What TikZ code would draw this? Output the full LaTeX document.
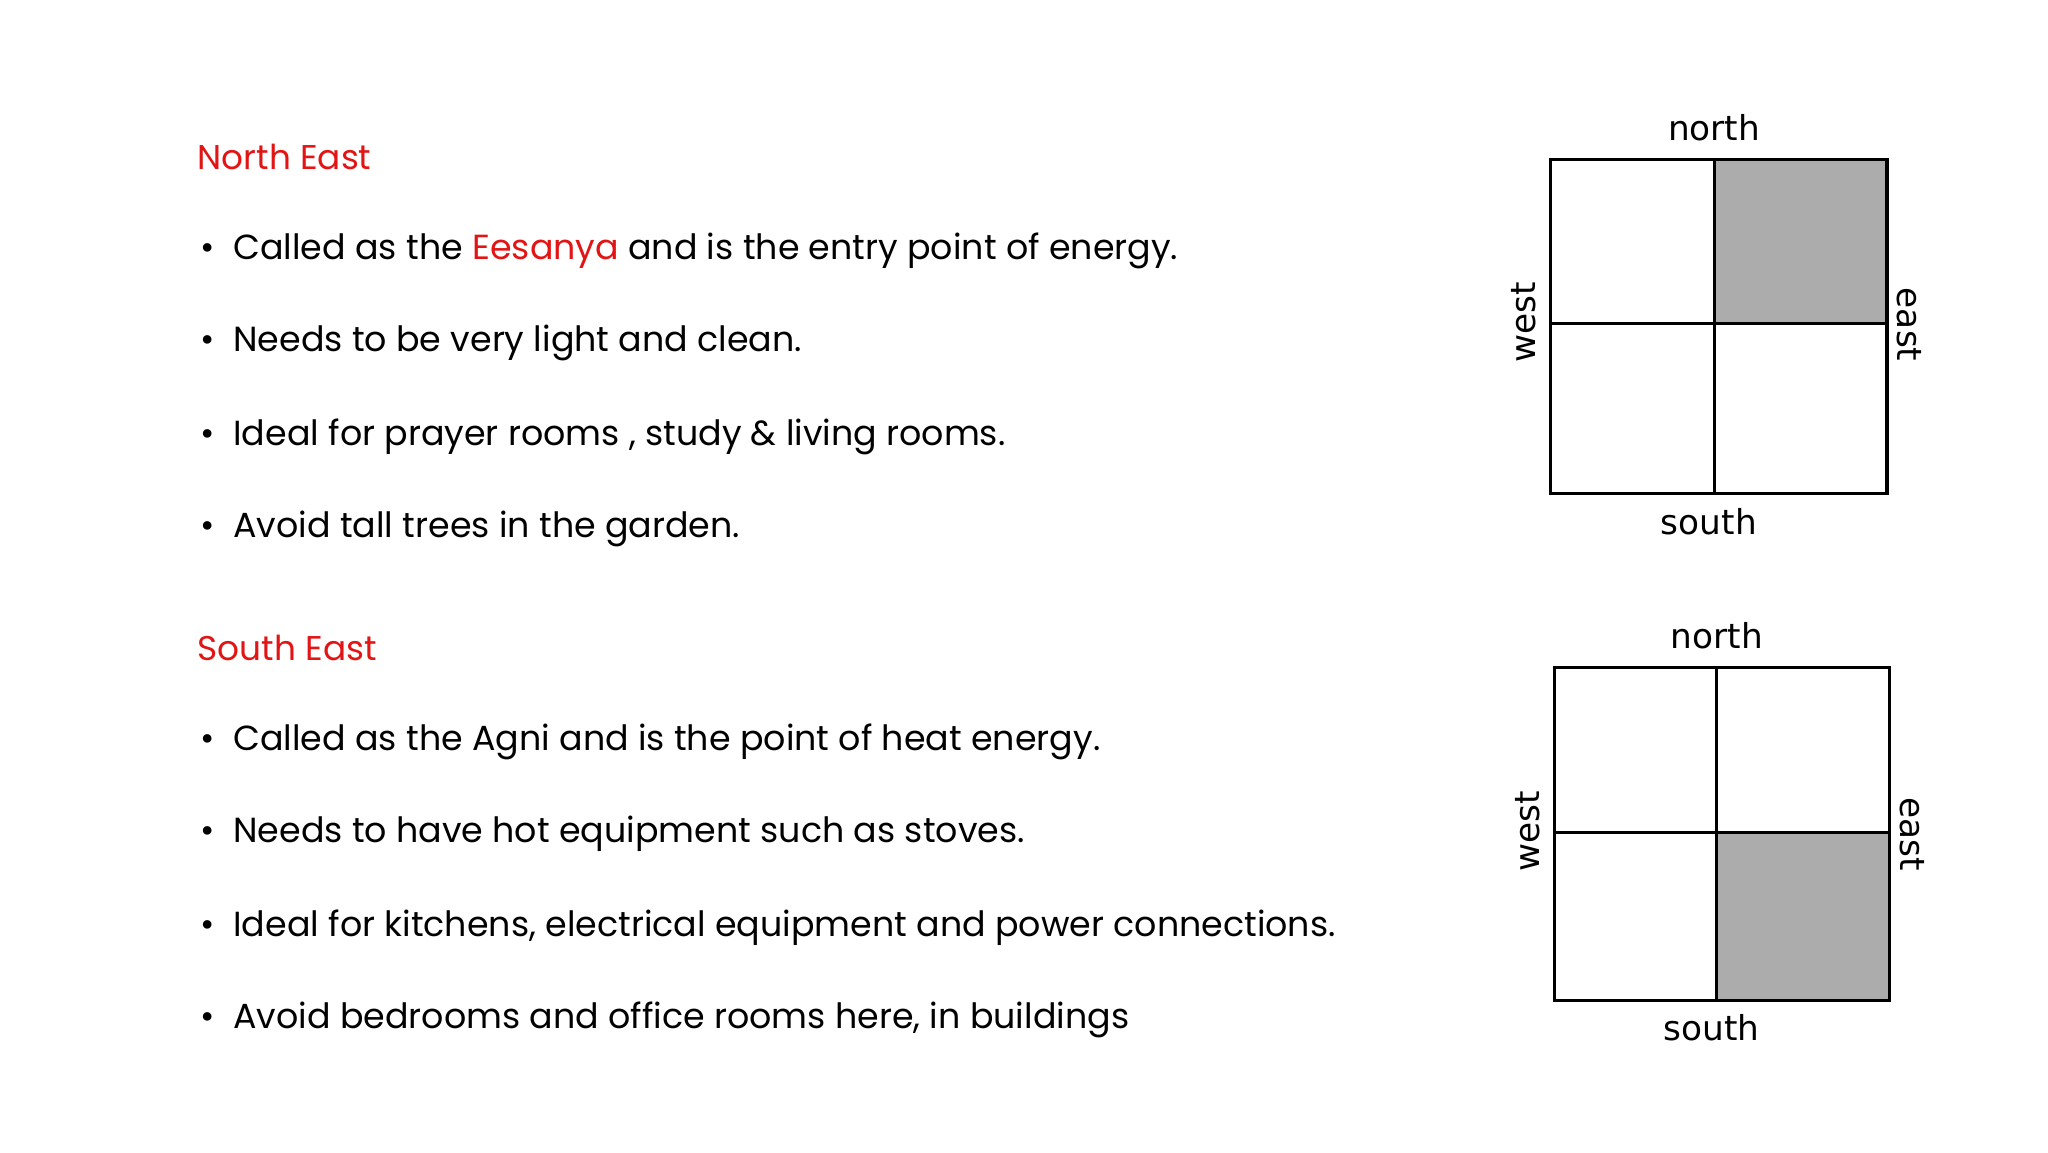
\documentclass[tikz,border=0pt]{standalone}
\usepackage{fontspec}
\setmainfont{Poppins}
\newfontfamily\labelfont{DejaVu Sans}
\usetikzlibrary{positioning}
\definecolor{headred}{RGB}{226,20,20}
\tikzset{
  head/.style={anchor=west,inner sep=0.75pt,text=headred,font=\fontsize{13}{15}\selectfont},
  item/.style={anchor=west,inner sep=0.75pt,font=\fontsize{13.2}{15}\selectfont},
  dirlabel/.style={inner sep=0.75pt,font=\labelfont\fontsize{13}{15}\selectfont},
  cell/.style={line width=1.2pt},
  shade/.style={fill=gray!65}
}
\begin{document}
\begin{tikzpicture}[x=0.5pt,y=0.5pt,yscale=-1,xscale=1]
\useasboundingbox (0,0) rectangle (1552,873);

% Text Node
\node[head] (ne) at (148,119) {North East};
\node[item] (ne1) at (150,190) {\textbullet\ \ Called as the \textcolor{headred}{Eesanya} and is the entry point of energy.};
\node[item] (ne2) at (150,260) {\textbullet\ \ Needs to be very light and clean.};
\node[item] (ne3) at (150,331) {\textbullet\ \ Ideal for prayer rooms , study \& living rooms.};
\node[item] (ne4) at (150,401) {\textbullet\ \ Avoid tall trees in the garden.};

% Text Node
\node[head] (se) at (148,491) {South East};
\node[item] (se1) at (150,562) {\textbullet\ \ Called as the Agni and is the point of heat energy.};
\node[item] (se2) at (150,632) {\textbullet\ \ Needs to have hot equipment such as stoves.};
\node[item] (se3) at (150,703) {\textbullet\ \ Ideal for kitchens, electrical equipment and power connections.};
\node[item] (se4) at (150,773) {\textbullet\ \ Avoid bedrooms and office rooms here, in buildings};

%Shape: Grid north east
\fill[shade] (1299,121) rectangle (1430,245);
\draw[cell] (1175,121) rectangle (1430,374);
\draw[cell] (1299,121) -- (1299,374) (1175,245) -- (1430,245);
\node[dirlabel] (n1) at (1299,97) {north};
\node[dirlabel] (s1) at (1295,395) {south};
\node[dirlabel,rotate=90] (w1) at (1155,244) {west};
\node[dirlabel,rotate=-90] (e1) at (1447,246) {east};

%Shape: Grid south east
\fill[shade] (1301,631) rectangle (1432,758);
\draw[cell] (1178,506) rectangle (1432,758);
\draw[cell] (1301,506) -- (1301,758) (1178,631) -- (1432,631);
\node[dirlabel] (n2) at (1301,482) {north};
\node[dirlabel] (s2) at (1297,779) {south};
\node[dirlabel,rotate=90] (w2) at (1158,630) {west};
\node[dirlabel,rotate=-90] (e2) at (1449,632) {east};
\end{tikzpicture}
\end{document}
